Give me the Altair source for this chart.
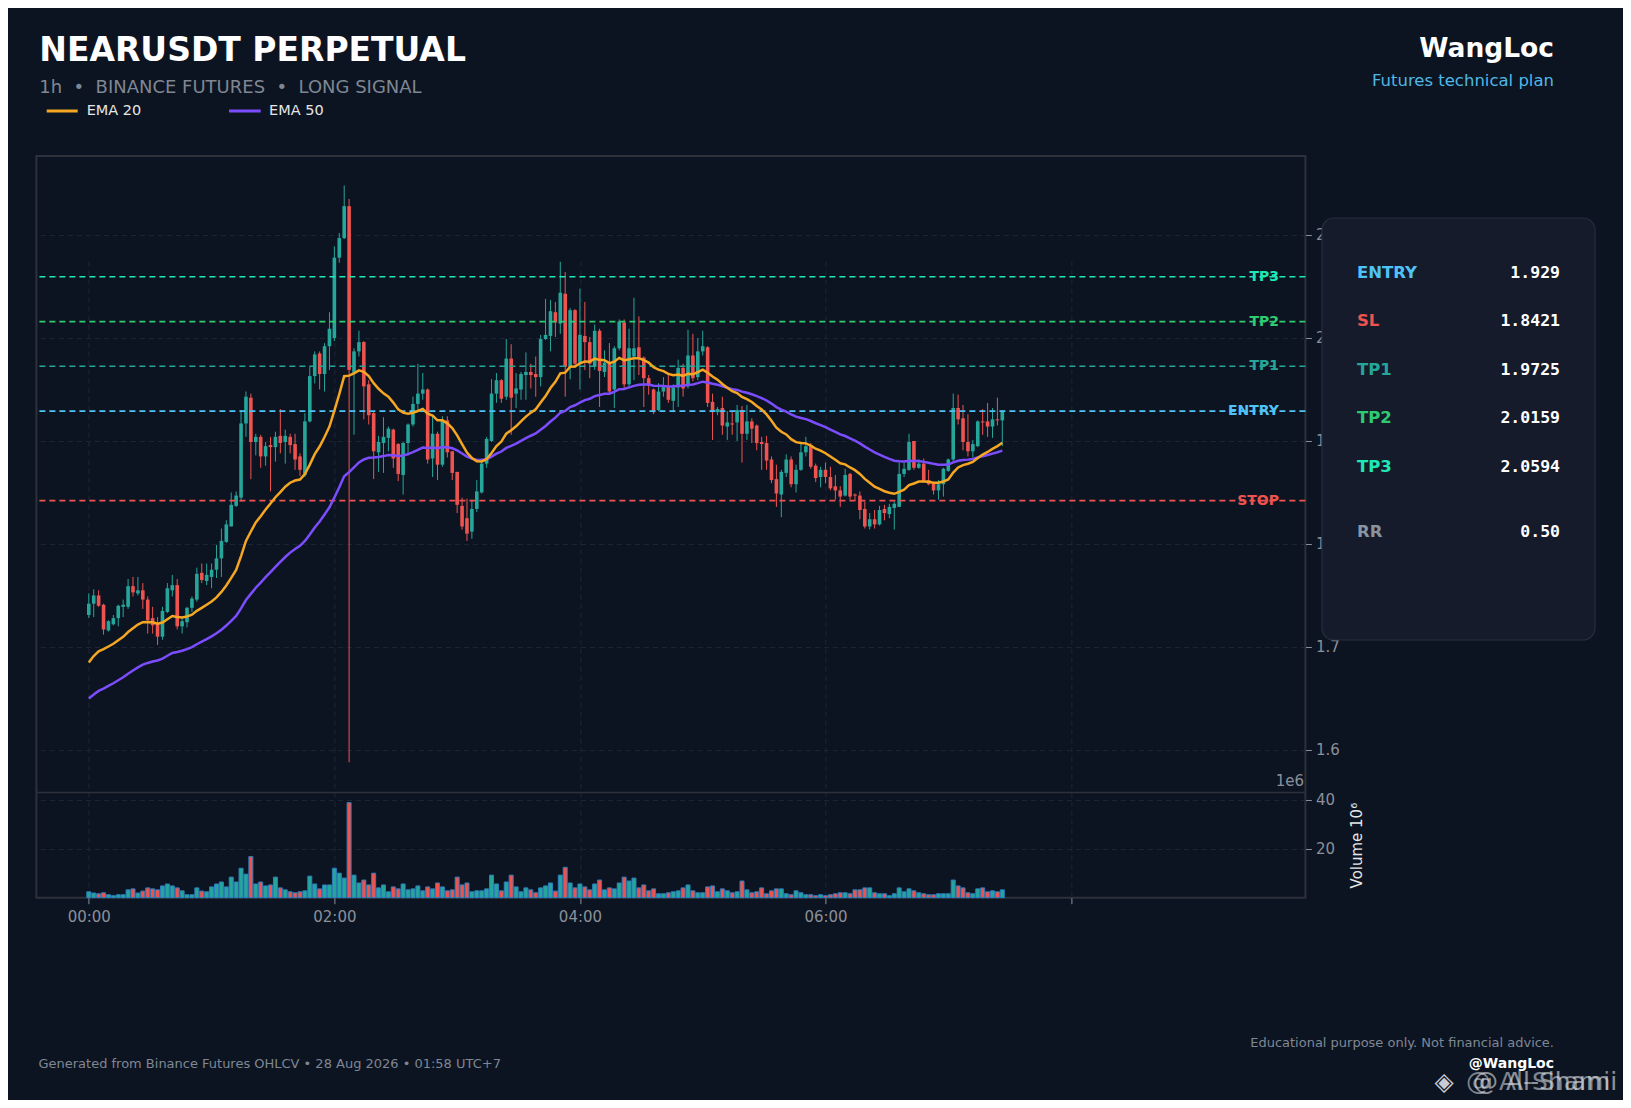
import altair as alt
import pandas as pd

# ---------------- data ----------------
opens = [1.731,1.742,1.750,1.741,1.716,1.722,1.728,1.739,1.739,1.759,1.752,1.755,1.746,1.728,1.723,1.710,1.734,1.755,1.760,1.720,
         1.724,1.738,1.746,1.772,1.764,1.768,1.775,1.786,1.802,1.817,1.837,1.845,1.917,1.942,1.899,1.904,1.885,1.896,1.894,1.905,
         1.899,1.904,1.897,1.885,1.867,1.919,1.963,1.985,1.965,1.992,2.000,2.078,2.097,2.128,1.966,1.987,1.996,1.955,1.927,1.889,
         1.898,1.903,1.911,1.897,1.867,1.898,1.916,1.936,1.946,1.950,1.883,1.907,1.877,1.920,1.890,1.870,1.837,1.825,1.812,1.834,
         1.850,1.878,1.900,1.946,1.959,1.943,1.980,1.946,1.950,1.964,1.967,1.965,1.962,1.999,2.002,2.025,2.014,2.043,1.972,2.027,
         1.976,2.002,1.996,1.972,2.007,1.967,1.976,1.950,1.990,2.015,1.955,1.982,1.991,1.981,1.961,1.950,1.930,1.948,1.953,1.939,
         1.952,1.971,1.953,1.983,1.962,1.987,1.991,1.938,1.928,1.932,1.914,1.917,1.918,1.930,1.907,1.919,1.915,1.899,1.898,1.882,
         1.863,1.848,1.869,1.882,1.858,1.872,1.889,1.896,1.876,1.865,1.872,1.865,1.856,1.852,1.847,1.868,1.848,1.847,1.834,1.817,
         1.824,1.819,1.834,1.829,1.835,1.836,1.868,1.872,1.900,1.874,1.878,1.862,1.859,1.852,1.858,1.871,1.882,1.932,1.922,1.899,
         1.890,1.895,1.919,1.919,1.914,1.921,1.920]
highs = [1.752,1.756,1.755,1.742,1.726,1.731,1.741,1.746,1.766,1.768,1.768,1.762,1.749,1.739,1.729,1.739,1.762,1.770,1.766,1.728,
         1.739,1.749,1.777,1.781,1.781,1.781,1.799,1.815,1.823,1.850,1.851,1.930,1.948,1.946,1.907,1.906,1.899,1.904,1.909,1.931,
         1.911,1.907,1.907,1.888,1.927,1.972,1.987,1.987,1.995,2.025,2.089,2.102,2.148,2.135,1.990,2.007,1.997,1.959,1.929,1.905,
         1.923,1.914,1.912,1.898,1.899,1.917,1.943,1.975,1.966,1.951,1.924,1.909,1.924,1.924,1.890,1.870,1.845,1.844,1.843,1.862,
         1.883,1.904,1.960,1.966,1.960,1.999,1.994,1.966,1.967,1.986,1.975,1.982,2.003,2.038,2.037,2.035,2.074,2.064,2.029,2.028,
         2.048,2.035,2.001,2.013,2.009,1.988,1.995,1.992,2.018,2.018,2.009,2.039,2.021,1.982,1.964,1.951,1.956,1.962,1.966,1.955,
         1.979,1.975,2.008,2.004,2.000,2.007,1.992,1.946,1.933,1.943,1.929,1.928,1.935,1.934,1.935,1.922,1.916,1.904,1.905,1.885,
         1.877,1.872,1.887,1.885,1.877,1.898,1.904,1.898,1.878,1.875,1.879,1.875,1.867,1.856,1.873,1.869,1.849,1.851,1.841,1.830,
         1.833,1.837,1.838,1.839,1.841,1.879,1.879,1.907,1.900,1.882,1.883,1.872,1.860,1.862,1.874,1.883,1.946,1.945,1.935,1.926,
         1.901,1.920,1.931,1.937,1.932,1.942,1.930]
lows = [1.728,1.729,1.739,1.712,1.715,1.721,1.720,1.729,1.737,1.749,1.750,1.737,1.713,1.713,1.702,1.707,1.733,1.749,1.717,1.713,
        1.719,1.734,1.744,1.762,1.760,1.757,1.767,1.768,1.801,1.817,1.836,1.841,1.904,1.863,1.886,1.874,1.876,1.851,1.880,1.888,
        1.878,1.888,1.872,1.866,1.865,1.918,1.956,1.950,1.948,1.969,1.997,2.073,2.096,1.588,1.906,1.982,1.921,1.916,1.863,1.870,
        1.869,1.890,1.874,1.861,1.848,1.886,1.914,1.930,1.940,1.878,1.865,1.862,1.875,1.884,1.862,1.830,1.814,1.803,1.805,1.831,
        1.849,1.874,1.899,1.937,1.937,1.940,1.906,1.932,1.940,1.940,1.951,1.943,1.953,1.998,1.987,2.001,2.004,1.943,1.960,1.971,
        1.950,1.969,1.961,1.969,1.933,1.962,1.945,1.932,1.988,1.950,1.953,1.959,1.964,1.933,1.945,1.926,1.929,1.943,1.937,1.928,
        1.933,1.943,1.951,1.958,1.959,1.983,1.933,1.901,1.925,1.906,1.901,1.906,1.900,1.879,1.901,1.898,1.891,1.872,1.872,1.859,
        1.836,1.826,1.865,1.855,1.850,1.871,1.885,1.873,1.860,1.855,1.859,1.852,1.843,1.836,1.846,1.843,1.842,1.824,1.815,1.814,
        1.815,1.818,1.823,1.825,1.814,1.836,1.865,1.871,1.872,1.873,1.860,1.857,1.848,1.843,1.846,1.870,1.880,1.916,1.891,1.885,
        1.884,1.894,1.906,1.904,1.903,1.915,1.895]
closes = [1.742,1.750,1.740,1.717,1.725,1.728,1.740,1.741,1.759,1.753,1.755,1.746,1.726,1.721,1.710,1.735,1.757,1.760,1.720,1.725,
          1.738,1.747,1.771,1.765,1.770,1.775,1.786,1.803,1.819,1.838,1.847,1.917,1.943,1.899,1.904,1.885,1.895,1.894,1.904,1.898,
          1.905,1.896,1.882,1.872,1.919,1.963,1.984,1.965,1.992,2.009,2.078,2.097,2.128,1.969,1.987,1.996,1.953,1.925,1.890,1.899,
          1.904,1.912,1.883,1.868,1.898,1.916,1.936,1.946,1.950,1.882,1.907,1.877,1.920,1.889,1.869,1.838,1.817,1.810,1.834,1.851,
          1.878,1.902,1.946,1.959,1.941,1.980,1.942,1.951,1.965,1.967,1.964,1.962,1.999,2.003,2.026,2.015,2.044,1.972,2.027,1.975,
          2.003,1.996,1.975,2.007,1.968,1.976,1.948,1.990,2.016,1.955,1.990,1.990,1.980,1.961,1.954,1.928,1.948,1.953,1.940,1.952,
          1.971,1.951,1.983,1.961,1.987,1.992,1.937,1.928,1.931,1.915,1.918,1.916,1.930,1.907,1.919,1.912,1.898,1.897,1.881,1.862,
          1.849,1.870,1.882,1.858,1.872,1.889,1.895,1.875,1.864,1.872,1.865,1.854,1.852,1.846,1.867,1.846,1.847,1.833,1.817,1.824,
          1.819,1.833,1.830,1.836,1.839,1.868,1.873,1.899,1.874,1.878,1.861,1.858,1.852,1.858,1.873,1.882,1.932,1.921,1.899,1.890,
          1.897,1.919,1.918,1.914,1.921,1.920,1.929]
volumes = [2.4,1.9,1.6,2.0,1.2,0.8,1.2,1.2,3.2,3.6,1.9,2.7,4.0,3.6,3.2,4.8,5.6,4.8,4.0,2.8,
           1.2,1.2,4.0,2.7,2.4,4.4,5.6,6.4,4.4,8.4,6.4,12.0,9.6,16.8,5.6,6.4,4.8,5.2,8.4,4.0,
           3.2,2.4,2.0,2.4,2.8,8.8,5.6,3.6,5.2,5.2,12.0,10.0,8.0,38.8,9.2,6.0,7.2,5.2,10.0,4.0,
           5.2,2.4,4.4,3.6,5.6,3.2,3.6,4.8,2.8,4.4,3.6,6.0,4.4,2.8,3.2,8.4,5.2,6.0,2.4,2.8,
           2.8,3.6,9.2,5.6,2.8,6.4,9.2,4.4,2.4,4.0,3.2,2.0,4.0,4.8,6.0,2.7,9.2,12.4,6.0,4.0,
           5.6,4.4,3.2,5.6,7.2,3.2,4.0,3.6,6.0,8.4,6.8,8.0,4.0,5.2,2.8,3.6,1.6,1.6,2.0,2.4,
           2.8,4.0,5.2,2.8,2.0,2.0,4.4,4.8,2.4,3.6,2.8,2.0,2.4,6.8,3.2,2.0,2.4,4.0,1.6,2.8,
           3.6,3.6,1.6,1.2,2.8,2.0,1.2,1.2,0.8,1.2,0.8,1.2,1.6,2.0,2.0,1.6,3.2,3.2,4.0,4.0,
           2.0,1.6,1.6,0.8,1.6,4.0,2.4,3.6,2.8,2.0,1.6,1.2,1.2,1.6,1.6,1.6,7.2,4.8,4.0,2.0,
           1.6,3.6,4.0,2.4,2.8,2.4,3.2]
candle_minutes = 2.4          # spacing of the candles on the clock axis
ema20_start = 1.685           # EMA values at the first candle
ema50_start = 1.650

level_names = ["TP3", "TP2", "TP1", "ENTRY", "STOP"]
level_values = [2.0594, 2.0159, 1.9725, 1.929, 1.8421]
level_colors = ["#1de9b6", "#2ecc71", "#26a69a", "#4fc3f7", "#ef5350"]

panel_labels = ["ENTRY", "SL", "TP1", "TP2", "TP3", "RR"]
panel_values = ["1.929", "1.8421", "1.9725", "2.0159", "2.0594", "0.50"]
panel_colors = ["#4fc3f7", "#ef5350", "#26a69a", "#2ecc71", "#1de9b6", "#8b93a1"]

x_tick_values = [0, 120, 240, 360, 480]
x_tick_labels = ["00:00", "02:00", "04:00", "06:00", ""]
price_ticks = [1.6, 1.7, 1.8, 1.9, 2.0, 2.1]
volume_ticks = [20, 40]

# ---------------- derived ----------------
def ema(values, span, start):
    a = 2.0 / (span + 1)
    out = [start]
    for v in values[1:]:
        out.append(a * v + (1 - a) * out[-1])
    return out

GREEN = "#26a69a"
RED = "#ef5350"
n = len(closes)
df = pd.DataFrame({
    "t": [i * candle_minutes for i in range(n)],
    "open": opens, "high": highs, "low": lows, "close": closes,
    "volume": volumes,
    "ema20": ema(closes, 20, ema20_start),
    "ema50": ema(closes, 50, ema50_start),
})
df["col"] = [GREEN if c >= o else RED for o, c in zip(opens, closes)]
lv = pd.DataFrame({"name": level_names, "value": level_values, "col": level_colors})

BG = "#0d1421"
GRAY = "#8b909a"
FONT = "DejaVu Sans"
NB = "\u00a0"

W, H = 1269, 741.7
PRICE_H = 636.6

xs = alt.Scale(domain=[-25.6, 594.5], nice=False, zero=False, padding=0)
ps = alt.Scale(domain=[1.5586, 2.1767], range=[PRICE_H, 0], nice=False, zero=False, padding=0)
vs = alt.Scale(domain=[0, 42.9], range=[H, PRICE_H], nice=False, zero=False, padding=0)
colr = alt.Color("col:N", scale=None)

xaxis = alt.Axis(values=x_tick_values, labelExpr=str(x_tick_labels).replace('"', "'") + "[datum.value/120]",
                 grid=True, title=None, labelPadding=6, tickSize=6)
paxis = alt.Axis(orient="right", values=price_ticks, format=".1f", title=None, grid=True,
                 labelPadding=4, tickSize=6)
vaxis = alt.Axis(orient="right", values=volume_ticks, title="Volume  10⁶", grid=True,
                 labelPadding=4, tickSize=6, titleAngle=270, titleColor="#e6e6e6",
                 titleFontSize=15, titleFontWeight="normal", titleFont=FONT, titlePadding=30)

base = alt.Chart(df)
wicks = base.mark_rule(strokeWidth=1).encode(
    x=alt.X("t:Q", scale=xs, axis=xaxis), y=alt.Y("low:Q", scale=ps, axis=paxis), y2="high:Q", color=colr)
bodies = base.mark_bar(size=3.6).encode(
    x=alt.X("t:Q", scale=xs), y=alt.Y("open:Q", scale=ps), y2="close:Q", color=colr)
lvl_text = alt.Chart(lv).mark_text(align="right", baseline="middle", font=FONT, fontWeight="bold",
                                   fontSize=14).encode(
    x=alt.value(1242.6), y=alt.Y("value:Q", scale=ps), text="name:N", color=colr)
lvl_rules = alt.Chart(lv).mark_rule(strokeDash=[6, 4], strokeWidth=1.6).encode(
    y=alt.Y("value:Q", scale=ps), color=colr)
e20 = base.mark_line(color="#f5a623", strokeWidth=2.5).encode(
    x=alt.X("t:Q", scale=xs), y=alt.Y("ema20:Q", scale=ps))
e50 = base.mark_line(color="#7c4dff", strokeWidth=2.5).encode(
    x=alt.X("t:Q", scale=xs), y=alt.Y("ema50:Q", scale=ps))
price = alt.layer(wicks, bodies, lvl_text, lvl_rules, e50, e20)

vol = base.mark_bar(size=4, stroke="#2b7fc0", strokeWidth=1).encode(
    x=alt.X("t:Q", scale=xs), y=alt.Y("volume:Q", scale=vs, axis=vaxis), color=colr)

one = pd.DataFrame({"k": [0]})

def txt(s, x, y, size, color, weight="normal", align="left", baseline="alphabetic", font=FONT, opacity=1):
    return alt.Chart(one).mark_text(text=s, align=align, baseline=baseline, font=font, fontSize=size,
                                    fontWeight=weight, color=color, opacity=opacity).encode(
        x=alt.value(x), y=alt.value(y))

def hline(x1, x2, y, color, width):
    return alt.Chart(one).mark_rule(color=color, strokeWidth=width).encode(
        x=alt.value(x1), x2=alt.value(x2), y=alt.value(y))

subtitle = f"1h{NB}{NB}•{NB}{NB}BINANCE FUTURES{NB}{NB}•{NB}{NB}LONG SIGNAL"
ann = [
    hline(0, W, PRICE_H, "#2c313c", 1.5),
    txt("1e6", 1267.6, 630, 15, GRAY, align="right"),
    txt("NEARUSDT PERPETUAL", 2.9, -95, 33, "#ffffff", weight="bold"),
    txt(subtitle, 2.9, -63.3, 18, "#7f8794"),
    hline(10.3, 41.3, -45, "#f5a623", 3),
    txt("EMA 20", 50.3, -45, 14.5, "#e6e6e6", baseline="middle"),
    hline(192.6, 224.3, -45, "#7c4dff", 3),
    txt("EMA 50", 232.6, -45, 14.5, "#e6e6e6", baseline="middle"),
    txt("WangLoc", 1517.6, -99, 26.5, "#ffffff", weight="bold", align="right"),
    txt("Futures technical plan", 1517.6, -70, 16.5, "#4fb8e6", align="right"),
    alt.Chart(one).mark_rect(fill="#151b2b", stroke="#262d3d", strokeWidth=1.2, cornerRadius=12).encode(
        x=alt.value(1285.6), x2=alt.value(1558.6), y=alt.value(62), y2=alt.value(484)),
    txt("Generated from Binance Futures OHLCV • 28 Aug 2026 • 01:58 UTC+7", 2.1, 912, 13, "#7f8794"),
    txt("Educational purpose only. Not financial advice.", 1517.6, 891, 13, "#7f8794", align="right"),
    txt("◈", 1407.6, 934, 25, "#c8ccd2", align="center"),
    txt("@ Al-Shami", 1429.6, 934, 25, "#9aa0a8", opacity=0.8),
    txt("@ Al-Shami", 1436.6, 934, 25, "#e2e5ea", opacity=0.6),
    txt("@WangLoc", 1517.6, 912, 14, "#ffffff", weight="bold", align="right"),
]
row_y = [122, 170, 219, 267, 316, 381]
for lab, val, col, yy in zip(panel_labels, panel_values, panel_colors, row_y):
    ann.append(txt(lab, 1320.6, yy, 16.5, col, weight="bold"))
    ann.append(txt(val, 1523.6, yy, 16.5, "#ffffff", weight="bold", align="right", font="DejaVu Sans Mono"))

chart = alt.layer(price, vol, *ann).resolve_scale(y="independent").properties(
    width=W, height=H,
    autosize=alt.AutoSizeParams(type="none"),
    padding={"left": 28.4, "top": 148, "right": 317.6, "bottom": 202},
    background=BG,
).configure_view(stroke="#2c313c", strokeWidth=2, fill=BG).configure_axis(
    labelFont=FONT, labelColor=GRAY, labelFontSize=15, tickColor=GRAY, domain=False,
    gridColor="#1e2635", gridDash=[5, 4], gridWidth=1,
)

chart.save("out.html", embed_options={"renderer": "svg", "actions": False})
